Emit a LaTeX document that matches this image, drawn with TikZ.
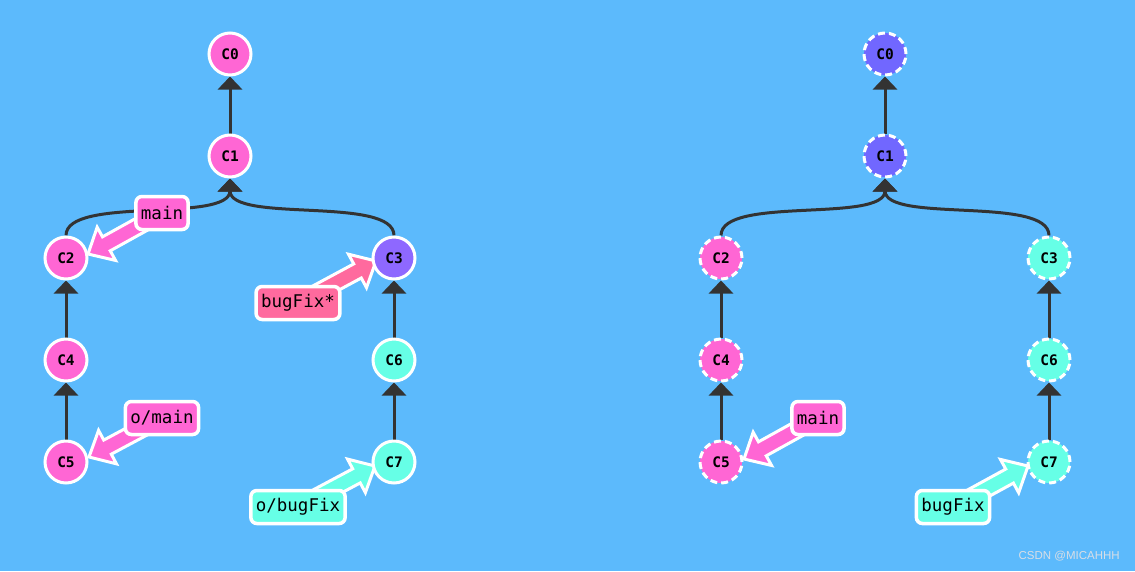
\documentclass[tikz,border=0pt]{standalone}
\usepackage{fontspec}
\newfontfamily\cmono{DejaVu Sans Mono}
\newfontfamily\wmfont{Liberation Sans}
\usetikzlibrary{arrows.meta,calc}
\definecolor{bgblue}{HTML}{5CBAFC}
\definecolor{cpink}{HTML}{FF66D4}
\definecolor{cviolet}{HTML}{8E68FF}
\definecolor{cindigo}{HTML}{7167FF}
\definecolor{ccyan}{HTML}{66FFE6}
\definecolor{crose}{HTML}{FF6A9E}
\definecolor{edgegray}{HTML}{333333}
\definecolor{wmgray}{HTML}{D8DEE6}
\pgfdeclarelayer{bg}
\pgfdeclarelayer{arr}
\pgfsetlayers{bg,arr,main}
\tikzset{
  commit/.style={circle, minimum size=42pt, inner sep=0pt, draw=white, line width=3pt, fill=#1,
    font=\cmono\bfseries\fontsize{14.5}{15}\selectfont},
  ghost/.style={commit=#1, dash pattern=on 7pt off 4pt},
  branch/.style={rounded corners=6pt, draw=white, line width=3.5pt, fill=#1, inner xsep=5pt,
    inner ysep=0pt, minimum height=33pt, font=\cmono\fontsize{17.5}{18}\selectfont},
  edge/.style={draw=edgegray, line width=3pt, -{Triangle[length=13pt,width=24pt]}},
  barrow/.style={draw=white, line width=3pt, line join=miter, fill=#1},
}
\newcommand\brarr[3]{%
  \coordinate (hb) at ($(#1)!21pt!(#2)$);
  \path[barrow=#3] (#1) -- ($(hb)!19pt!90:(#2)$) -- ($(hb)!8pt!90:(#2)$)
    -- ($(#2)!8pt!-90:(hb)$) -- ($(#2)!8pt!90:(hb)$) -- ($(hb)!8pt!-90:(#2)$)
    -- ($(hb)!19pt!-90:(#2)$) -- cycle;
}
\begin{document}
\begin{tikzpicture}[x=1pt,y=-1pt]
\useasboundingbox (0,0) rectangle (1135,571);
\begin{pgfonlayer}{bg}
  \fill[bgblue] (0,0) rectangle (1135,571);
\end{pgfonlayer}

% left graph
\node[commit=cpink] (C0) at (230,54) {C0};
\node[commit=cpink] (C1) at (230,156) {C1};
\node[commit=cpink] (C2) at (66,258) {C2};
\node[commit=cviolet] (C3) at (394,258) {C3};
\node[commit=cpink] (C4) at (66,360) {C4};
\node[commit=cpink] (C5) at (66,462) {C5};
\node[commit=ccyan] (C6) at (394,360) {C6};
\node[commit=ccyan] (C7) at (394,462) {C7};

\node[branch=cpink] (Lmain) at (162,213) {main};
\node[branch=crose] (Lbug) at (298,303) {bugFix*};
\node[branch=cpink] (Lomain) at (162,418) {o/main};
\node[branch=ccyan] (Lobug) at (298,507) {o/bugFix};

% right graph
\node[ghost=cindigo] (R0) at (885,54) {C0};
\node[ghost=cindigo] (R1) at (885,156) {C1};
\node[ghost=cpink] (R2) at (721,258) {C2};
\node[ghost=ccyan] (R3) at (1049,258) {C3};
\node[ghost=cpink] (R4) at (721,360) {C4};
\node[ghost=cpink] (R5) at (721,462) {C5};
\node[ghost=ccyan] (R6) at (1049,360) {C6};
\node[ghost=ccyan] (R7) at (1049,462) {C7};

\node[branch=cpink] (Rmain) at (818,418) {main};
\node[branch=ccyan] (Rbug) at (953,507) {bugFix};

\node[font=\wmfont\fontsize{11.5}{12}\selectfont, text=wmgray, anchor=east, inner sep=0pt] (wm) at (1120,556) {CSDN @MICAHHH};

\coordinate (t1) at ($(C2)+(22,-4)$);
\coordinate (t2) at ($(C3)+(-18,3)$);
\coordinate (t3) at ($(C5)+(23,-5)$);
\coordinate (t4) at ($(C7)+(-19,4)$);
\coordinate (t5) at ($(R5)+(23,-3)$);
\coordinate (t6) at ($(R7)+(-21,4)$);

\begin{pgfonlayer}{arr}
  \draw[edge] (C1) -- (C0);
  \draw[edge] (C2.north) .. controls +(0,-40) and +(0,45) .. (C1.south);
  \draw[edge] (C3.north) .. controls +(0,-40) and +(0,45) .. (C1.south);
  \draw[edge] (C4) -- (C2);
  \draw[edge] (C5) -- (C4);
  \draw[edge] (C6) -- (C3);
  \draw[edge] (C7) -- (C6);
  \draw[edge] (R1) -- (R0);
  \draw[edge] (R2.north) .. controls +(0,-40) and +(0,45) .. (R1.south);
  \draw[edge] (R3.north) .. controls +(0,-40) and +(0,45) .. (R1.south);
  \draw[edge] (R4) -- (R2);
  \draw[edge] (R5) -- (R4);
  \draw[edge] (R6) -- (R3);
  \draw[edge] (R7) -- (R6);
  \brarr{t1}{Lmain}{cpink}
  \brarr{t2}{Lbug}{crose}
  \brarr{t3}{Lomain}{cpink}
  \brarr{t4}{Lobug}{ccyan}
  \brarr{t5}{Rmain}{cpink}
  \brarr{t6}{Rbug}{ccyan}
\end{pgfonlayer}
\end{tikzpicture}
\end{document}
